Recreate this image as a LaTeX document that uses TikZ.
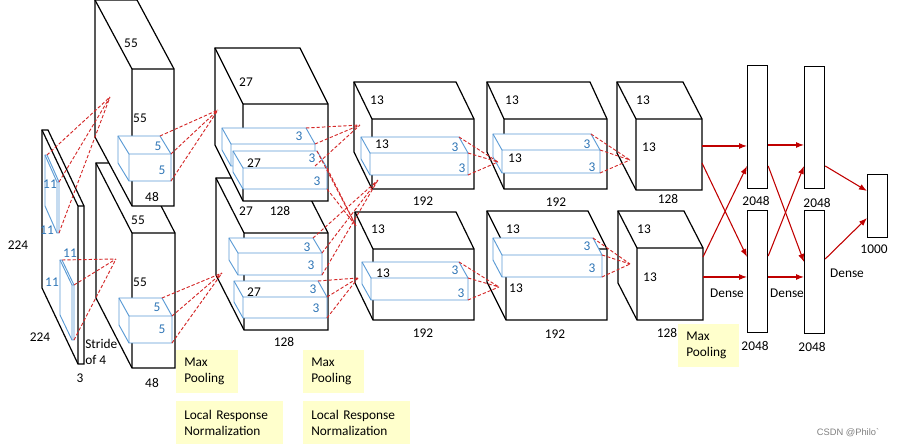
\documentclass[tikz,border=0pt]{standalone}
\usepackage{fontspec}
\setmainfont{Carlito}
\newfontfamily\wmfont{Liberation Sans}
\usetikzlibrary{arrows.meta}
\definecolor{filterblue}{RGB}{91,155,213}
\definecolor{textblue}{RGB}{46,117,182}
\definecolor{dashred}{RGB}{212,40,40}
\definecolor{arrred}{RGB}{192,0,0}
\definecolor{notefill}{RGB}{255,255,204}
\newcommand{\cuboid}[8]{
\draw[#2] ({#3+(#7)},{#4+(#8)}) -- ++(#5,0) -- ({#3+#5},#4) -- ++(0,#6) -- (#3,{#4+#6}) -- ++(#7,#8) -- cycle;
\draw[#2, fill=none] ({#3+(#7)},{#4+(#8)}) -- (#3,#4) -- ++(#5,0) (#3,#4) -- ++(0,#6);
\coordinate (#1-b) at ({#3+#5+(#7)},{#4+(#8)});
\coordinate (#1-r) at ({#3+#5},#4);
\coordinate (#1-d) at ({#3+#5},{#4+#6});
}

\begin{document}
\begin{tikzpicture}[x=0.75pt, y=-0.75pt, font=\fontsize{10}{12}\selectfont,
block/.style={draw=black, line width=0.9pt, fill=white, line join=miter},
filt/.style={draw=filterblue, line width=0.7pt, fill=white},
conv/.style={draw=dashred, line width=0.7pt, dash pattern=on 2.5pt off 1.5pt},
arr/.style={draw=arrred, line width=0.8pt, -{Latex[length=6pt, width=4.5pt]}},
lbl/.style={inner sep=0pt},
blbl/.style={inner sep=0pt, text=textblue},
dense/.style={draw, line width=0.9pt, fill=white, minimum width=15pt, inner sep=0pt, anchor=north west},
note/.style={fill=notefill, align=left, anchor=north west, inner xsep=6pt, inner ysep=0pt, minimum height=32.25pt}]
\useasboundingbox (0,0) rectangle (900,448);
\cuboid{in}{block}{78}{206}{6}{158}{-36}{-76}
\cuboid{c1b}{block}{132}{233}{43}{135}{-36}{-70}
\cuboid{c1a}{block}{132}{69}{42}{137}{-37}{-69}
\cuboid{c2b}{block}{244}{233}{84}{97}{-28}{-55}
\cuboid{c2a}{block}{243}{104}{85}{97}{-28}{-56}
\cuboid{c3a}{block}{372}{119}{102}{70}{-18}{-37}
\cuboid{c3b}{block}{373}{249}{101}{71}{-18}{-37}
\cuboid{c4a}{block}{504}{119}{103}{70}{-17}{-37}
\cuboid{c4b}{block}{506}{249}{101}{71}{-19}{-38}
\cuboid{c5a}{block}{636}{119}{66}{71}{-19}{-37}
\cuboid{c5b}{block}{637}{248}{66}{72}{-19}{-37}
\cuboid{f0a}{filt}{57}{182}{2}{51}{-12}{-27}
\cuboid{f0b}{filt}{72}{285}{2}{55}{-12}{-25}
\cuboid{f1a}{filt}{129}{154}{42}{27}{-11}{-18}
\cuboid{f1b}{filt}{129}{316}{43}{27}{-10}{-18}
\cuboid{f2a}{filt}{231}{144}{84}{22}{-9}{-16}
\cuboid{f2b}{filt}{243}{168}{84}{21}{-10}{-17}
\cuboid{f2c}{filt}{238}{253}{84}{22}{-9}{-15}
\cuboid{f2d}{filt}{243}{297}{84}{21}{-9}{-16}
\cuboid{f3a}{filt}{370}{153}{98}{22}{-9}{-16}
\cuboid{f3b}{filt}{371}{278}{97}{22}{-9}{-16}
\cuboid{f4a}{filt}{502}{150}{98}{23}{-9}{-16}
\cuboid{f4b}{filt}{502}{255}{100}{22}{-9}{-17}
\coordinate (t1a) at (110,97);
\coordinate (t1b) at (116,259);
\coordinate (t2a) at (218,110);
\coordinate (t2b) at (222,273);
\coordinate (t3a) at (360,125);
\coordinate (t3b) at (356,226);
\coordinate (t3c) at (378,180);
\coordinate (t3d) at (358,278);
\coordinate (t4a) at (498,162);
\coordinate (t4b) at (499,287);
\coordinate (t5a) at (630,160);
\coordinate (t5b) at (630,264);
\draw[conv] (f0a-b) -- (t1a) (f0a-r) -- (t1a) (f0a-d) -- (t1a);
\draw[conv] (f0b-b) -- (t1b) (f0b-r) -- (t1b) (f0b-d) -- (t1b);
\draw[conv] (f1a-b) -- (t2a) (f1a-r) -- (t2a) (f1a-d) -- (t2a);
\draw[conv] (f1b-b) -- (t2b) (f1b-r) -- (t2b) (f1b-d) -- (t2b);
\draw[conv] (f2a-b) -- (t3a) (f2a-r) -- (t3a) (f2a-d) -- (t3a);
\draw[conv] (f2b-b) -- (t3b) (f2b-r) -- (t3b) (f2b-d) -- (t3b);
\draw[conv] (f2c-b) -- (t3c) (f2c-r) -- (t3c) (f2c-d) -- (t3c);
\draw[conv] (f2d-b) -- (t3d) (f2d-r) -- (t3d) (f2d-d) -- (t3d);
\draw[conv] (f3a-b) -- (t4a) (f3a-r) -- (t4a) (f3a-d) -- (t4a);
\draw[conv] (f3b-b) -- (t4b) (f3b-r) -- (t4b) (f3b-d) -- (t4b);
\draw[conv] (f4a-b) -- (t5a) (f4a-r) -- (t5a) (f4a-d) -- (t5a);
\draw[conv] (f4b-b) -- (t5b) (f4b-r) -- (t5b) (f4b-d) -- (t5b);
\node[lbl] (in1) at (18,245) {224};
\node[lbl] (in2) at (40,337) {224};
\node[lbl] (in3) at (80,378) {3};
\node[lbl, align=left, anchor=west] (st) at (85,352) {Stride\\of 4};
\node[lbl] (c1a1) at (131,43) {55};
\node[lbl] (c1a2) at (140,118) {55};
\node[lbl] (c1a3) at (152,197) {48};
\node[lbl] (c1b1) at (138,220) {55};
\node[lbl] (c1b2) at (140,282) {55};
\node[lbl] (c1b3) at (152,383) {48};
\node[lbl] (c2a1) at (246,82) {27};
\node[lbl] (c2a2) at (254,163) {27};
\node[lbl] (c2a3) at (246,211) {27};
\node[lbl] (c2a4) at (280,211) {128};
\node[lbl] (c2b1) at (254,292) {27};
\node[lbl] (c2b2) at (284,342) {128};
\node[lbl] (c3a1) at (377,100) {13};
\node[lbl] (c3a2) at (382,144) {13};
\node[lbl] (c3a3) at (423,201) {192};
\node[lbl] (c3b1) at (378,229) {13};
\node[lbl] (c3b2) at (383,273) {13};
\node[lbl] (c3b3) at (423,333) {192};
\node[lbl] (c4a1) at (512,100) {13};
\node[lbl] (c4a2) at (515,158) {13};
\node[lbl] (c4a3) at (556,202) {192};
\node[lbl] (c4b1) at (513,229) {13};
\node[lbl] (c4b2) at (516,288) {13};
\node[lbl] (c4b3) at (555,334) {192};
\node[lbl] (c5a1) at (643,100) {13};
\node[lbl] (c5a2) at (649,147) {13};
\node[lbl] (c5a3) at (668,199) {128};
\node[lbl] (c5b1) at (644,229) {13};
\node[lbl] (c5b2) at (650,277) {13};
\node[lbl] (c5b3) at (667,333) {128};
\node[blbl] (k1) at (50,184) {11};
\node[blbl] (k2) at (47,230) {11};
\node[blbl] (k3) at (70,253) {11};
\node[blbl] (k4) at (52,282) {11};
\node[blbl] (k5) at (158,146) {5};
\node[blbl] (k6) at (162,170) {5};
\node[blbl] (k7) at (157,307) {5};
\node[blbl] (k8) at (162,329) {5};
\node[blbl] (k9) at (299,136) {3};
\node[blbl] (k10) at (312,158) {3};
\node[blbl] (k11) at (317,181) {3};
\node[blbl] (k12) at (307,247) {3};
\node[blbl] (k13) at (311,265) {3};
\node[blbl] (k14) at (313,289) {3};
\node[blbl] (k15) at (316,308) {3};
\node[blbl] (k16) at (455,147) {3};
\node[blbl] (k17) at (462,168) {3};
\node[blbl] (k18) at (455,270) {3};
\node[blbl] (k19) at (461,293) {3};
\node[blbl] (k20) at (587,144) {3};
\node[blbl] (k21) at (592,167) {3};
\node[blbl] (k22) at (587,246) {3};
\node[blbl] (k23) at (592,268) {3};
\node[dense, minimum height=92.25pt] (fc1a) at (747,65) {};
\node[dense, minimum height=91.5pt] (fc1b) at (747,210) {};
\node[dense, minimum height=91.5pt] (fc2a) at (804,66) {};
\node[dense, minimum height=92.25pt] (fc2b) at (804,210) {};
\node[dense, minimum height=47.25pt] (out) at (867,174) {};
\draw[arr] (c5a-r |- 0,146) -- (fc1a.west |- 0,146);
\draw[arr] (c5a-r |- 0,163) -- (fc1b.west |- 0,257);
\draw[arr] (c5b-r |- 0,257) -- (fc1a.west |- 0,166);
\draw[arr] (c5b-r |- 0,277) -- (fc1b.west |- 0,277);
\draw[arr] (fc1a.east |- 0,145) -- (fc2a.west |- 0,145);
\draw[arr] (fc1a.east |- 0,166) -- (fc2b.west |- 0,262);
\draw[arr] (fc1b.east |- 0,256) -- (fc2a.west |- 0,166);
\draw[arr] (fc1b.east |- 0,277) -- (fc2b.west |- 0,277);
\draw[arr] (fc2a.east |- 0,166) -- (out.west |- 0,191);
\draw[arr] (fc2b.east |- 0,259) -- (out.west |- 0,218);
\node[lbl] (n1) at (756,201) {2048};
\node[lbl] (n2) at (755,346) {2048};
\node[lbl] (n3) at (817,203) {2048};
\node[lbl] (n4) at (812,347) {2048};
\node[lbl] (n5) at (874,249) {1000};
\node[lbl] (d1) at (727,293) {Dense};
\node[lbl] (d2) at (787,293) {Dense};
\node[lbl] (d3) at (847,273) {Dense};
\node[note, text width=34.5pt] (mp1) at (176,350) {Max\\Pooling};
\node[note, text width=68.25pt] (lrn1) at (176,401) {Local Response\\Normalization};
\node[note, text width=33.75pt] (mp2) at (303,350) {Max\\Pooling};
\node[note, text width=68.25pt] (lrn2) at (303,401) {Local Response\\Normalization};
\node[note, text width=33.75pt] (mp3) at (678,324) {Max\\Pooling};
\node[lbl, font=\wmfont\fontsize{7}{8}\selectfont, text=gray] (wm) at (848,433) {CSDN @Philo\textasciigrave};
\end{tikzpicture}
\end{document}
